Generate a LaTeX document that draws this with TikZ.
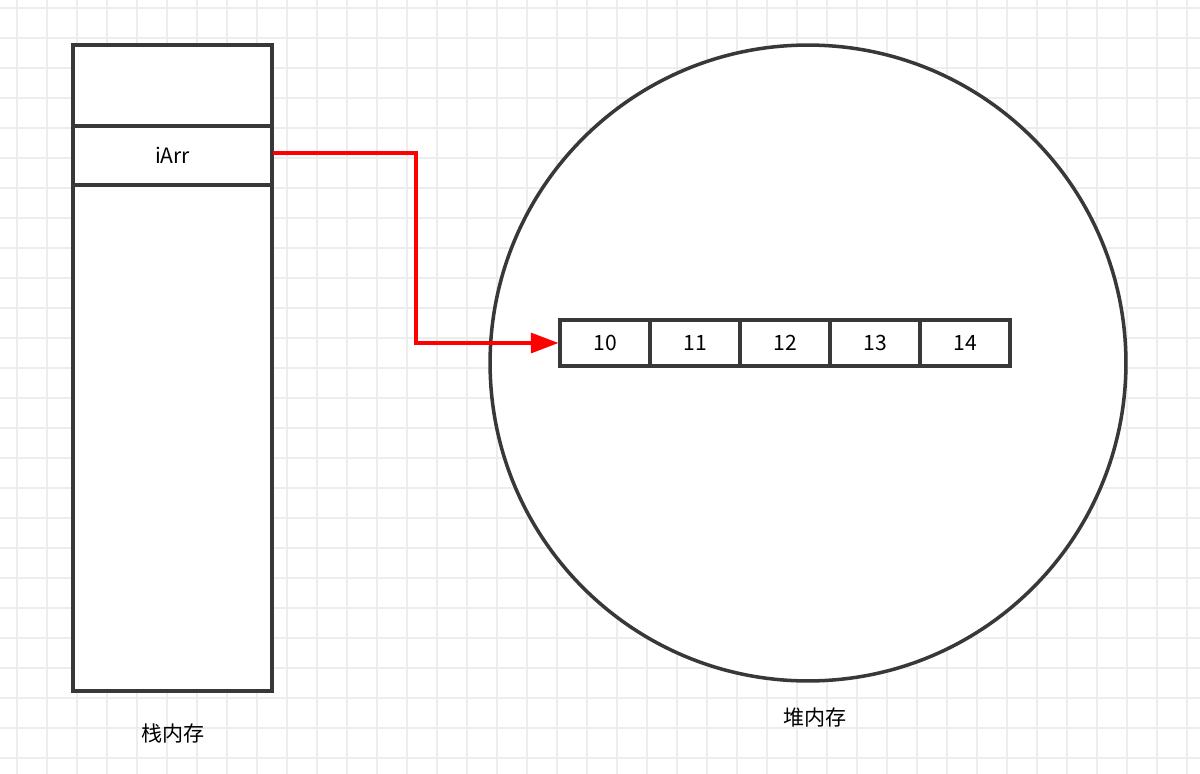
\documentclass[tikz,border=0pt]{standalone}
\usepackage{fontspec}
\setmainfont{Noto Sans CJK SC}
\usetikzlibrary{arrows.meta}
\colorlet{gridgray}{black!7}
\colorlet{boxgray}{black!78}
\tikzset{cell/.style={draw=boxgray,line width=1.8pt,minimum width=1.8cm,minimum height=0.92cm,inner sep=0,font=\large},
         ptr/.style={draw=red,line width=1.8pt,-{Triangle[length=0.55cm,width=0.4cm]}}
}
\begin{document}
\begin{tikzpicture}[x=0.02cm,y=-0.02cm]
  \useasboundingbox(0,0)rectangle(1200,774);
  \fill[white](0,0)rectangle(1200,774);
  % grid
  \foreach\x in {17,47,...,1200} \draw[gridgray,line width=0.6pt](\x,0)--(\x,774);
  \foreach\y in {8,38,...,774} \draw[gridgray,line width=0.6pt](0,\y)--(1200,\y);
  % stack
  \draw[boxgray,line width=2pt,fill=white](73,45)rectangle(272,691);
  \draw[boxgray,line width=2pt](73,126)--(272,126);
  \draw[boxgray,line width=2pt](73,185)--(272,185);
  \node[font=\large](iarr) at (172.5,155.5){iArr};
  \coordinate(src) at (273,153);
  \node[font=\large] (stacklbl) at (173,733){栈内存};
  % heap
  \draw[boxgray,line width=2pt,fill=white](808,363)circle[radius=6.36cm];
  \node[font=\large] (heaplbl) at (815,718){堆内存};
  \foreach\v [count=\i from 0] in {10,11,12,13,14}
    \node[cell,fill=white](c\i) at (605+90*\i,343){\v};
  \draw[ptr](src)-|(416,343)--(c0.west);
\end{tikzpicture}
\end{document}
